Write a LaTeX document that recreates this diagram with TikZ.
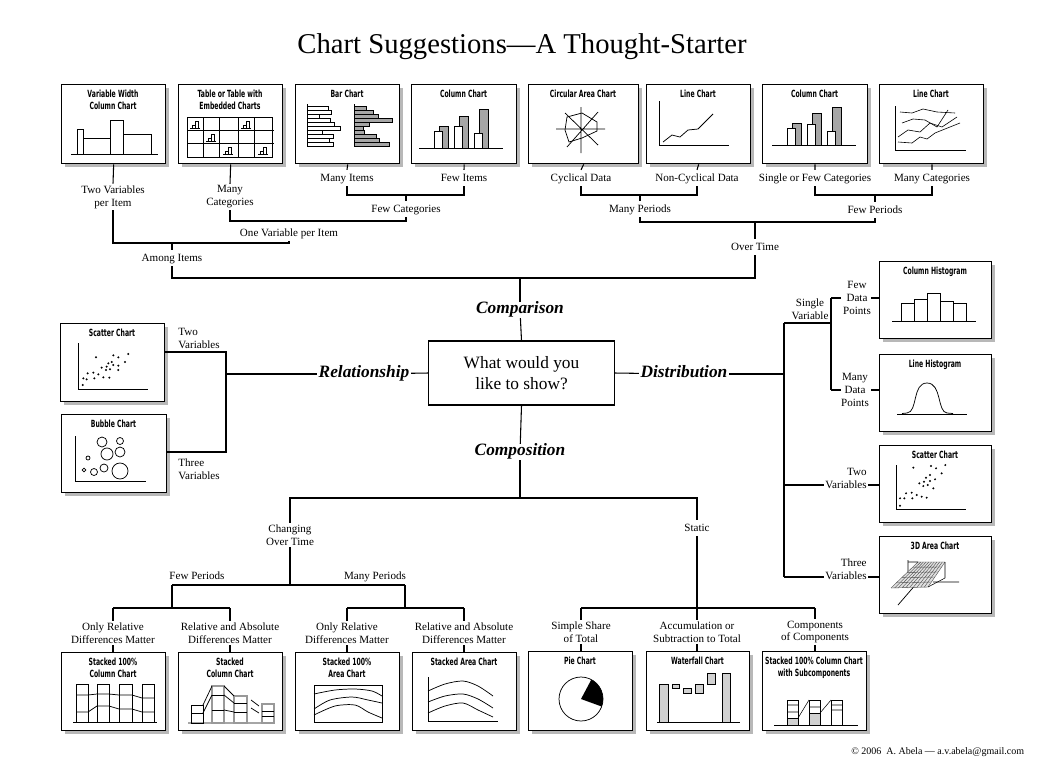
\documentclass[tikz,border=0pt]{standalone}
\usepackage{fontspec}
\setmainfont{Liberation Serif}
\newfontfamily\ttlfont{DejaVu Sans}[FakeStretch=0.62]
\usetikzlibrary{calc}
\newcommand\lbl{\fontsize{8.3}{9.7}\selectfont}
\newcommand\cbox[6]{%
  \fill[black!28] (#2+4,#3+4) rectangle (#4+4,#5+4);
  \node[draw,line width=1pt,fill=white,inner sep=0,anchor=north west,
        minimum width={(#4-#2)*0.75pt},minimum height={(#5-#3)*0.75pt}] (#1) at (#2,#3) {};
  \node[ttl,anchor=north] (#1t) at ({(#2+#4)/2},#3+4) {#6};}
\begin{document}
\begin{tikzpicture}[x=0.75pt,y=-0.75pt,line width=0.8pt,
  ttl/.style={font=\ttlfont\bfseries\fontsize{7.4}{9.3}\selectfont,align=center,inner sep=1pt},
  lab/.style={font=\lbl,align=center,inner sep=1pt},
  slab/.style={lab,text height=1.6ex,text depth=0.45ex},
  head/.style={font=\fontsize{13}{15}\selectfont\bfseries\itshape,inner sep=1pt,text height=1.6ex,text depth=0.45ex},
  thin/.style={line width=0.55pt},
  gbar/.style={thin,fill=black!35},
  wbar/.style={thin,fill=white}]
\useasboundingbox[fill=white] (0,0) rectangle (1052,779);
\node[font=\fontsize{21.5}{24}\selectfont] (title) at (522,47) {Chart Suggestions—A Thought-Starter};

% ---------- top boxes
\cbox{b1}{61}{84}{165}{163}{Variable Width\\Column Chart}
\cbox{b2}{178}{84}{282}{163}{Table or Table with\\Embedded Charts}
\cbox{b3}{295}{84}{399}{163}{Bar Chart}
\cbox{b4}{411}{84}{516}{163}{Column Chart}
\cbox{b5}{528}{84}{638}{163}{Circular Area Chart}
\cbox{b6}{646}{84}{750}{163}{Line Chart}
\cbox{b7}{762}{84}{867}{163}{Column Chart}
\cbox{b8}{879}{84}{983}{163}{Line Chart}
% left
\cbox{sc1}{60}{323}{164}{401}{Scatter Chart}
\cbox{bub}{61}{414}{166}{492}{Bubble Chart}
% right
\cbox{ch}{879}{261}{991}{338}{Column Histogram}
\cbox{lh}{879}{354}{991}{431}{Line Histogram}
\cbox{sc2}{879}{445}{991}{522}{Scatter Chart}
\cbox{ar3}{879}{536}{991}{613}{3D Area Chart}
% bottom
\cbox{c1}{61}{652}{165}{730}{Stacked 100\%\\Column Chart}
\cbox{c2}{178}{652}{282}{730}{Stacked\\Column Chart}
\cbox{c3}{295}{652}{399}{730}{Stacked 100\%\\Area Chart}
\cbox{c4}{412}{652}{516}{730}{Stacked Area Chart}
\cbox{c5}{528}{651}{632}{730}{Pie Chart}
\cbox{c6}{646}{651}{749}{730}{Waterfall Chart}
\cbox{c7}{762}{651}{866}{730}{Stacked 100\% Column Chart\\with Subcomponents}

% ---------- mini charts
% variable width
\draw[thin] (71,154)--(158,154);
\draw[thin] (77,154)|-(83,129)--(83,154) (83,138)-|(110,154) (110,120)-|(123,154) (123,134)-|(151,154);
\draw[thin] (110,154)|-(110,120);
% table
\draw[thin] (187,117) rectangle (272,157);
\foreach \yy in {130,143} \draw[thin] (187,\yy)--(274,\yy);
\foreach \xx in {203,219,238,254} \draw[thin] (\xx,117)--(\xx,157);
\foreach \cx/\cy in {195/124,246/124,211/137,228/150,263/150}{
  \draw[line width=0.4pt] (\cx-5,\cy+4)--(\cx+5,\cy+4) (\cx-3,\cy+4) rectangle (\cx,\cy+1) (\cx,\cy+4) rectangle (\cx+3,\cy-3);}
% bar chart
\foreach \L [count=\i from 0] in {21,24,12,23,27,33,15,26,22,26}
  \draw[wbar] (307,{106+4*\i}) rectangle ({307+\L},{110+4*\i});
\foreach \L [count=\i from 0] in {12,19,24,38,15,9,10,22,25,35}
  \draw[gbar] (354,{106+4*\i}) rectangle ({354+\L},{110+4*\i});
\draw[thin] (307,104)--(307,147) (354,104)--(354,147);
% column chart 1
\draw[gbar] (439,148) rectangle (448,126) (459,148) rectangle (468,116) (479,148) rectangle (488,109);
\draw[wbar] (434,148) rectangle (442,131) (454,148) rectangle (462,126) (474,148) rectangle (482,133);
\draw[thin] (419,148)--(503,148);
% circular area
\draw[thin] (556,129)--(605,129) (581,107)--(581,153) (565,113)--(598,145) (598,112)--(567,147);
\draw[thin] (567,117)--(582,113)--(597,122)--(597,131)--(582,138)--(569,142)--(565,130)--cycle;
% line chart
\draw[thin] (659,101)--(659,145)--(729,145);
\draw[thin] (663,142)--(672,135)--(680,137)--(688,130)--(698,129)--(713,114);
% column chart 2
\draw[gbar] (792,145) rectangle (801,123) (812,145) rectangle (821,113) (832,145) rectangle (841,107);
\draw[wbar] (787,145) rectangle (795,128) (807,145) rectangle (815,124) (827,145) rectangle (835,131);
\draw[thin] (772,145)--(856,145);
% line chart many
\draw[thin] (895,106)--(895,150)--(966,150);
\draw[line width=0.45pt] (900,112)--(912,113)--(923,109)--(937,112)--(955,113);
\draw[line width=0.45pt] (902,123)--(913,119)--(925,120)--(937,127)--(948,110);
\draw[line width=0.45pt] (898,137)--(908,130)--(920,132)--(930,123)--(942,127)--(957,117);
\draw[line width=0.45pt] (898,142)--(912,143)--(920,137)--(927,139)--(935,133)--(945,129)--(960,123);
% scatter left
\draw[thin] (78,343)--(78,389)--(148,389);
\foreach \p/\q in {138/232,190/226,205/232,235/222,175/250,185/246,225/246,155/263,170/260,190/255,205/257,168/270,180/268,205/270,113/280,130/278,145/283,100/295,110/298,133/295,160/292,178/293,98/315}
  \fill ({50+\p/3},{280+\q/3}) circle (1.1);
% bubble
\draw[thin] (75,436)--(75,481)--(146,481);
\foreach \p/\q/\r in {102/442/5,120/441/3.5,107/454/6,120/452/5,88/458/2,84/470/1.8,94/472/3.5,104/468/4,120/471/8}
  \draw[thin] (\p,\q) circle (\r);
% column histogram
\draw[thin] (892,321)--(976,321);
\foreach \x/\t in {901/303,914/299,927/293,940/301,953/303}
  \draw[thin] (\x,321) rectangle (\x+13,\t);
% line histogram
\draw[thin] (897,414)--(967,414);
\draw[thin] (902,413.5)--(907,413) .. controls (918,412) and (912,383) .. (927,383) .. controls (942,383) and (937,412) .. (947,413)--(953,413.5);
% scatter right
\draw[thin] (896,465)--(896,509)--(966,509);
\foreach \p/\q in {460/638,513/633,528/640,556/630,498/668,510/660,545/655,478/685,492/680,510/678,525/673,490/693,503/690,520/700,438/715,455/713,470/720,420/730,433/730,457/730,485/725,500/728,420/752}
  \fill ({760+\p/3},{255+\q/3}) circle (1.1);
% 3D area
\coordinate (A) at (891,588); \coordinate (B) at (928,587);
\coordinate (C) at (945,562); \coordinate (D) at (918,562);
\draw[thin] (908,560)--(908,588) (933,582)--(959,582) (898,605)--(917,583);
\fill[black!12] (A)--(B)--(C)--(D)--cycle;
\foreach \t in {0,0.1,...,1.01} \draw[line width=0.3pt,black!70] ($(A)!\t!(B)$)--($(D)!\t!(C)$);
\foreach \t in {0,0.2,...,1.01} \draw[line width=0.3pt,black!70] ($(A)!\t!(D)$)--($(B)!\t!(C)$);
\draw[line width=0.4pt] (908,562)--(D) (C)--(945,578)--(B);
% stacked 100% column
\draw[thin] (73,722)--(157,722);
\foreach \a/\b in {76/88,97/109,119/132,142/154} \draw[thin] (\a,722) rectangle (\b,684);
\draw[thin] (76,695)--(88,695)--(97,694)--(109,694)--(119,695)--(132,695)--(142,698)--(154,698);
\draw[thin] (76,712)--(88,712)--(97,706)--(109,706)--(119,709)--(132,709)--(142,712)--(154,712);
% stacked column
\draw[line width=1.2pt,black!35] (188,723)--(275,723);
\draw[line width=1pt,black!40] (212,723) rectangle (224,686) (234,723) rectangle (247,696) (262,723) rectangle (274,704);
\draw[thin] (191,723) rectangle (203,705) (191,713)--(203,713);
\draw[thin] (212,695)--(224,695) (212,710)--(224,710) (234,703)--(247,703) (234,712)--(247,712) (262,711)--(274,711) (262,716)--(274,716);
\draw[thin] (203,705)--(212,686) (203,713)--(212,695) (224,686)--(234,696) (224,695)--(234,703) (224,710)--(234,712) (251,700)--(259,706) (251,708)--(259,713);
% stacked 100% area
\draw[thin] (314,685) rectangle (382,722);
\draw[thin] plot[smooth] coordinates {(314,694) (335,690) (355,689) (372,691) (382,696)};
\draw[thin] plot[smooth] coordinates {(314,709) (330,700) (352,697) (368,700) (382,703)};
\draw[thin] plot[smooth] coordinates {(314,715) (335,706) (355,705) (368,712) (382,718)};
% stacked area
\draw[thin] (428,677)--(428,721)--(498,721);
\draw[thin] plot[smooth] coordinates {(428,691) (445,684) (463,681) (478,686) (493,696)};
\draw[thin] plot[smooth] coordinates {(428,702) (445,696) (463,694) (478,699) (493,708)};
\draw[thin] plot[smooth] coordinates {(428,713) (445,706) (463,703) (478,710) (493,717)};
% pie
\draw[thin] (581,699) circle (22);
\fill (581,699) -- ++(20:22) arc (20:-62:22) -- cycle;
% waterfall
\draw[thin] (657,722)--(740,722);
\draw[thin,fill=black!18] (659,722) rectangle (668,684) (722,722) rectangle (730,673) (672,684) rectangle (679,688) (683,688) rectangle (691,693) (695,684) rectangle (703,693) (707,673) rectangle (715,684);
% stacked with subcomponents
\draw[thin,fill=black!18] (787,725) rectangle (798,718) (809,725) rectangle (820,713);
\draw[line width=0.4pt] (787,725) rectangle (798,700) (809,725) rectangle (820,700) (831,725) rectangle (842,700);
\draw[line width=0.4pt] (787,705)--(798,705) (787,712)--(798,712) (809,707)--(820,707) (831,705)--(842,705) (831,710)--(842,710) (798,718)--(809,700) (820,713)--(831,700);
\draw[thin] (774,725)--(858,725);

% ---------- center
\node[draw,line width=0.8pt,minimum width=139pt,minimum height=48pt,align=center,
  font=\fontsize{13}{15.5}\selectfont] (q) at (521.5,373) {What would you\\like to show?};
\node[head] (cmp) at (520,310) {Comparison};
\node[head] (cps) at (520,452) {Composition};
\node[head] (rel) at (364,374) {Relationship};
\node[head] (dis) at (684,374) {Distribution};
\draw (cmp)--(q.north) (q.south)--(cps) (rel)--(q.west) (q.east)--(dis);

% ---------- comparison tree
\node[lab] (l1) at (113,197) {Two Variables\\per Item};
\node[lab] (l2) at (230,197) {Many\\Categories};
\node[slab] (l3) at (347,178) {Many Items};
\node[slab] (l4) at (464,178) {Few Items};
\node[slab] (l5) at (406,209) {Few Categories};
\node[slab] (l6) at (289,233) {One Variable per Item};
\node[slab] (l7) at (172,258) {Among Items};
\node[slab] (r1) at (581,178) {Cyclical Data};
\node[slab] (r2) at (697,178) {Non-Cyclical Data};
\node[slab] (r3) at (815,178) {Single or Few Categories};
\node[slab] (r4) at (932,178) {Many Categories};
\node[slab] (r5) at (640,209) {Many Periods};
\node[slab] (r6) at (875,210) {Few Periods};
\node[slab] (r7) at (755,247) {Over Time};
\draw (b1.south)--(l1.north) (b2.south)--(l2.north) (b3.south)--(l3.north) (b4.south)--(l4.north);
\draw (b5.south)--(r1.north) (b6.south)--(r2.north) (b7.south-|r3)--(r3.north) (b8.south-|r4)--(r4.north);
\draw (l3.south)|-(406,195)-|(l4.south) (406,195)--(l5.north);
\draw (l2.south)|-(406,221)--(l5.south);
\draw (l1.south)|-(289,243)--(l6.south);
\draw (r1.south)|-(640,195)-|(r2.south) (640,195)--(r5.north);
\draw (r3.south)|-(875,195)-|(r4.south) (875,195)--(r6.north);
\draw (r5.south)|-(755,222)-|(r6.south) (755,222)--(r7.north);
\draw (l7.north)--(172,243);
\draw (l7.south)|-(755,278)--(r7.south) (520,278)--(cmp.north);

% ---------- relationship
\node[lab,align=left] (t2) at (199,338) {Two\\Variables};
\node[lab,align=left] (t3) at (199,469) {Three\\Variables};
\draw (sc1.east|-0,352)--(226,352)--(226,452)--(bub.east|-0,452) (226,374)--(rel.west);

% ---------- distribution
\node[lab] (d1) at (810,309) {Single\\Variable};
\node[lab] (d2) at (857,298) {Few\\Data\\Points};
\node[lab] (d3) at (855,390) {Many\\Data\\Points};
\node[lab,align=right] (d4) at (846,478) {Two\\Variables};
\node[lab,align=right] (d5) at (846,569) {Three\\Variables};
\draw (dis.east)--(784,374) (784,323)--(784,577);
\draw (784,323)--(831,323) (831,298)--(831,390);
\draw (831,298)--(841,298) (871,298)--(ch.west|-0,298);
\draw (831,390)--(841,390) (871,390)--(lh.west|-0,390);
\draw (784,485)--(d4.west|-0,485) (d4.east|-0,485)--(sc2.west|-0,485);
\draw (784,577)--(d5.west|-0,577) (d5.east|-0,577)--(ar3.west|-0,577);

% ---------- composition
\node[lab] (k1) at (290,535) {Changing\\Over Time};
\node[slab] (k2) at (697,528) {Static};
\node[slab] (k3) at (197,576) {Few Periods};
\node[slab] (k4) at (375,576) {Many Periods};
\node[lab] (m1) at (113,633) {Only Relative\\Differences Matter};
\node[lab] (m2) at (230,633) {Relative and Absolute\\Differences Matter};
\node[lab] (m3) at (347,633) {Only Relative\\Differences Matter};
\node[lab] (m4) at (464,633) {Relative and Absolute\\Differences Matter};
\node[lab] (s1) at (581,632) {Simple Share\\of Total};
\node[lab] (s2) at (697,632) {Accumulation or\\Subtraction to Total};
\node[lab] (s3) at (815,632) {Components\\of Components};
\draw (cps.south)--(520,498) (k1.north)|-(520,498)-|(k2.north);
\draw (k1.south)--(290,585) (172,585)--(405,585);
\draw (172,585)--(172,608) (113,608)--(230,608) (405,585)--(405,608) (347,608)--(464,608);
\foreach \n in {m1,m2,m3,m4} \draw (\n.north|-0,608)--(\n.north);
\draw (m1.south)--(c1.north-|m1) (m2.south)--(c2.north-|m2) (m3.south)--(c3.north-|m3) (m4.south)--(c4.north-|m4);
\draw (k2.south)--(697,608) (581,608)--(815,608);
\foreach \n in {s1,s2,s3} \draw (\n.north|-0,608)--(\n.north);
\draw (s1.south)--(c5.north-|s1) (s2.south)--(c6.north-|s2) (s3.south)--(c7.north-|s3);

\node[font=\fontsize{7.5}{9}\selectfont,anchor=east] (cr) at (1029,752) {© 2006\ \ A. Abela — a.v.abela@gmail.com};
\end{tikzpicture}
\end{document}
